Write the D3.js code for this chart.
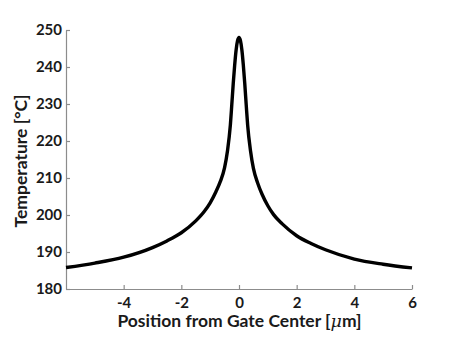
<!DOCTYPE html>
<html>
<head>
<meta charset="utf-8">
<script src="https://cdn.jsdelivr.net/npm/d3@7"></script>
<style>
  html, body { margin: 0; padding: 0; background: #fff; }
  svg { display: block; }
  text { font-family: Lato, "Open Sans", sans-serif; font-weight: bold; fill: #1a1a1a; }
</style>
</head>
<body>
<svg id="chart" width="474" height="345"></svg>
<script>
// Temperature profile along the channel, centred on the gate
const position = [-6, -5, -4, -3, -2.5, -2, -1.5, -1.2, -1.0, -0.8, -0.65, -0.5, -0.4, -0.3, -0.25, -0.2, -0.15, -0.1, -0.05, 0,
                  0.05, 0.1, 0.15, 0.2, 0.25, 0.3, 0.4, 0.5, 0.65, 0.8, 1.0, 1.2, 1.5, 2, 2.5, 3, 4, 5, 6];
const temperature = [185.8, 187.0, 188.6, 191.2, 193.0, 195.2, 198.4, 201.0, 203.3, 206.3, 209.0, 212.8, 217.3, 224.3, 229.8, 235.5, 240.5, 244.6, 247.1, 248.0,
                     247.1, 244.6, 240.5, 235.5, 229.8, 224.3, 217.3, 212.6, 208.6, 205.6, 202.5, 200.1, 197.6, 194.4, 192.3, 190.6, 188.1, 186.7, 185.7];
const xTicks = [-4, -2, 0, 2, 4, 6];
const yTicks = [180, 190, 200, 210, 220, 230, 240, 250];

const svg = d3.select("#chart");
const x = d3.scaleLinear().domain([-6, 6]).range([66, 412]);
const y = d3.scaleLinear().domain([180, 250]).range([289, 30]);
const axisColor = "#8c8c8c";
const plainNumber = d => String(d);   // hyphen-minus, as in the printed labels

// Left axis with inward ticks
const gy = svg.append("g").attr("transform", `translate(${x(-6)},0)`)
  .call(d3.axisLeft(y).tickValues(yTicks).tickFormat(plainNumber).tickSizeInner(-4).tickSizeOuter(0).tickPadding(4));
// Bottom axis with inward ticks
const gx = svg.append("g").attr("transform", `translate(0,${y(180)})`)
  .call(d3.axisBottom(x).tickValues(xTicks).tickFormat(plainNumber).tickSizeInner(-4).tickSizeOuter(0).tickPadding(8));

[gx, gy].forEach(g => {
  g.select(".domain").attr("stroke", axisColor).attr("stroke-width", 1.2);
  g.selectAll(".tick line").attr("stroke", axisColor).attr("stroke-width", 1.2);
  g.selectAll(".tick text").attr("font-size", 15).attr("fill", "#1a1a1a")
    .attr("font-family", "Lato, 'Open Sans', sans-serif").attr("font-weight", "bold");
});

// Temperature curve
const line = d3.line().x((d, i) => x(position[i])).y(d => y(d)).curve(d3.curveMonotoneX);
svg.append("path")
  .datum(temperature)
  .attr("d", line)
  .attr("fill", "none")
  .attr("stroke", "#000")
  .attr("stroke-width", 3.4)
  .attr("stroke-linejoin", "round");

// Axis titles
const xt = svg.append("text")
  .attr("x", 239.5).attr("y", 327)
  .attr("text-anchor", "middle")
  .attr("font-size", 17.5);
xt.append("tspan").text("Position from Gate Center [");
xt.append("tspan").attr("font-style", "italic").attr("font-family", "'DejaVu Serif', serif").attr("font-weight", "normal").text("μ");
xt.append("tspan").text("m]");

svg.append("text")
  .attr("transform", "translate(27,161) rotate(-90)")
  .attr("text-anchor", "middle")
  .attr("font-size", 17.5)
  .text("Temperature [°C]");
</script>
</body>
</html>
